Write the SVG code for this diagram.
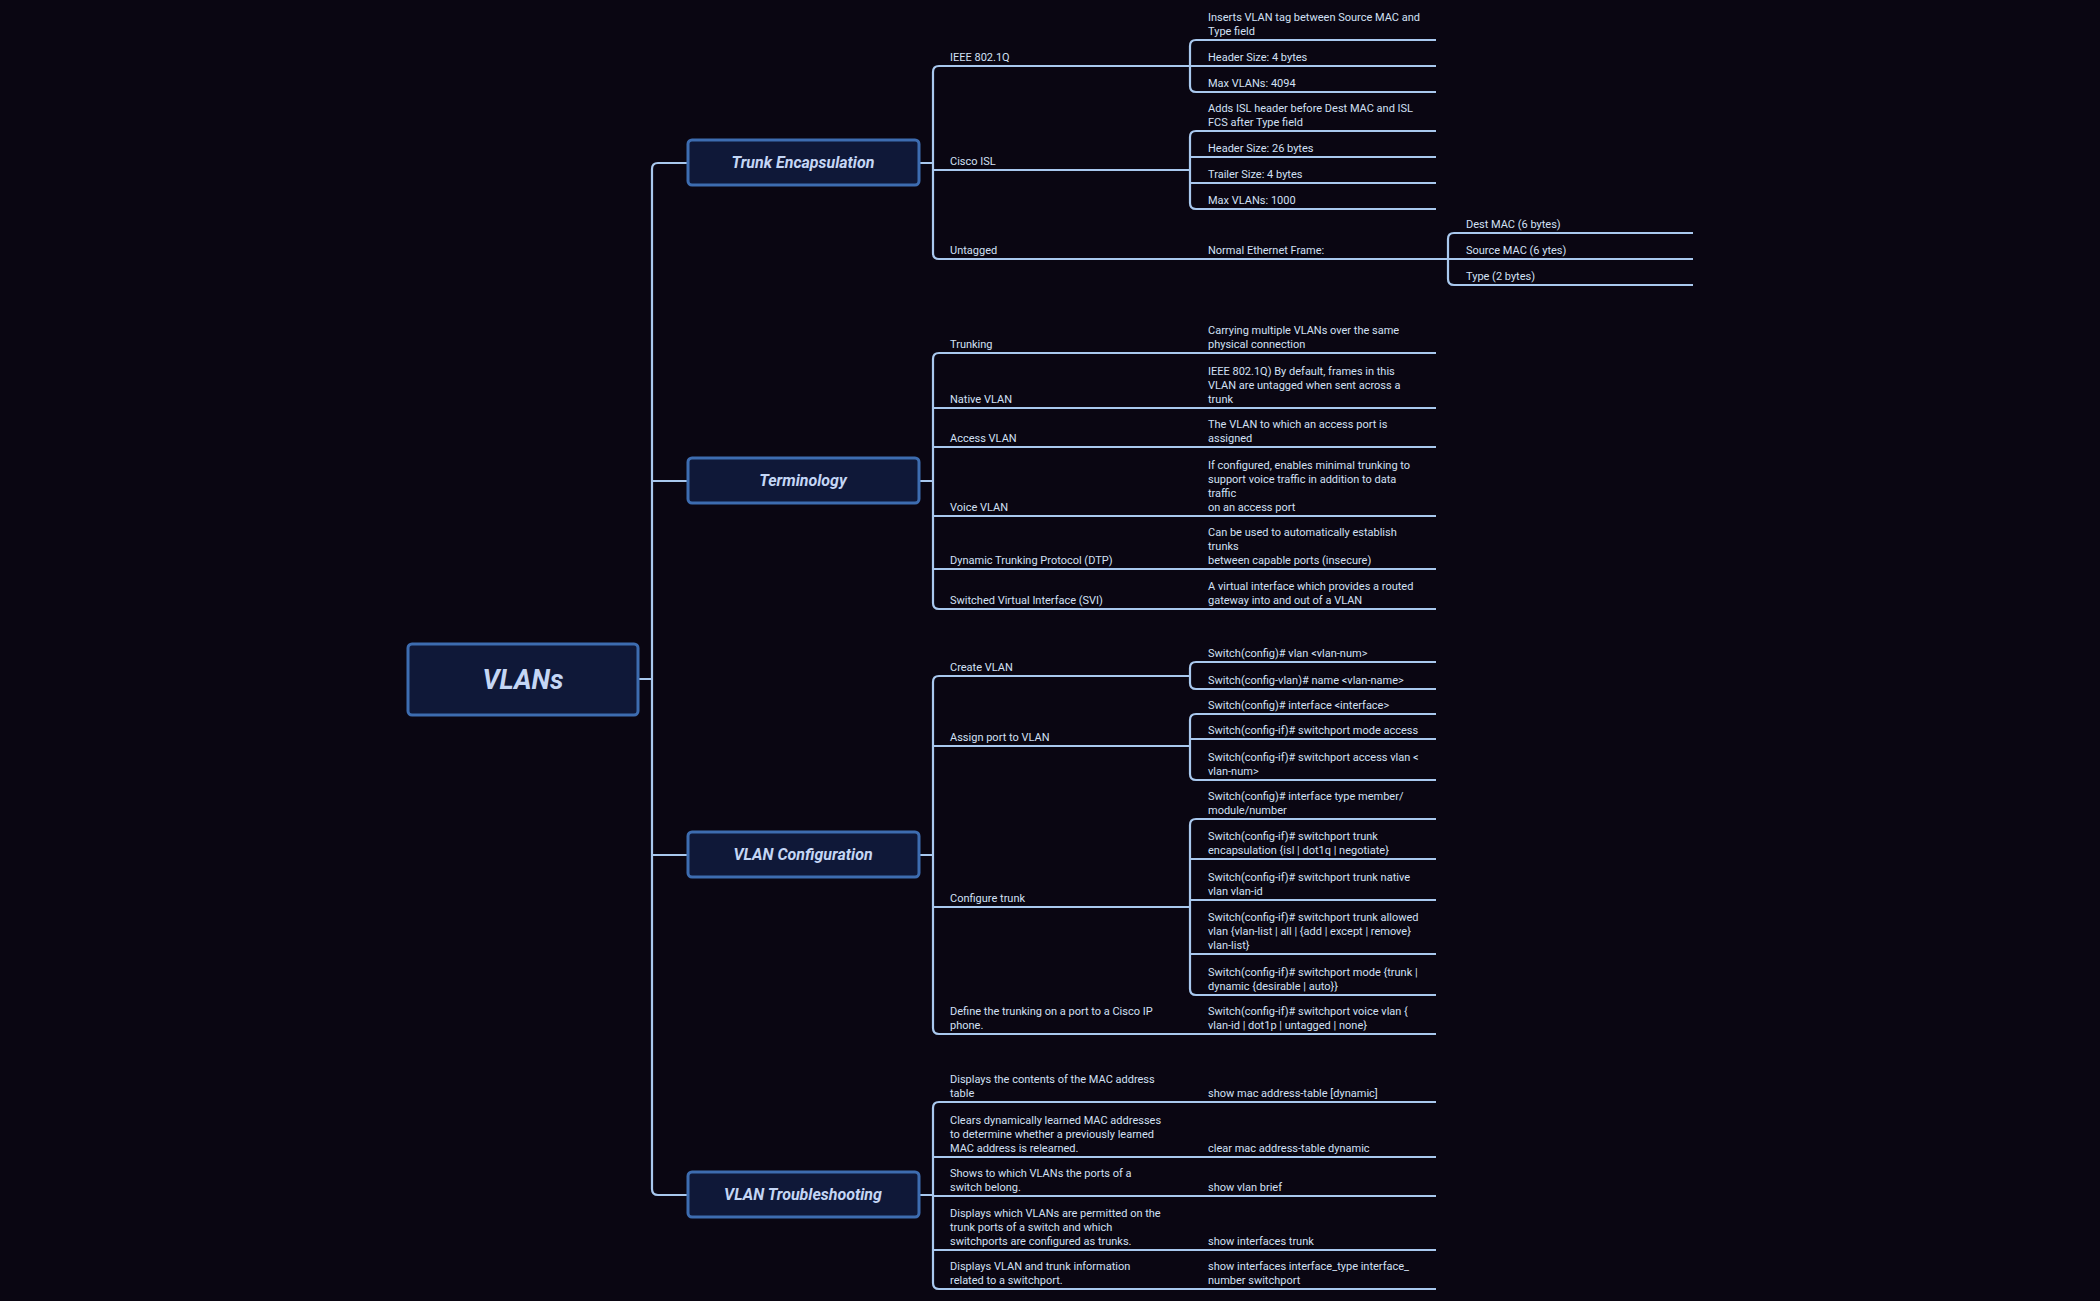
<svg xmlns="http://www.w3.org/2000/svg" width="2100" height="1301" viewBox="0 0 2100 1301">
<style>
.c{fill:none;stroke:#a9c8ee;stroke-width:2.2}
.t{font-family:Roboto,"Liberation Sans",sans-serif;font-size:11px;fill:#d2e0f5}
.box{fill:#0f1838;stroke:#3d6cb0;stroke-width:3}
.bt{font-family:Roboto,"Liberation Sans",sans-serif;font-weight:bold;font-style:italic;fill:#c4d6f5;text-anchor:middle}
</style>
<rect width="2100" height="1301" fill="#0a0612"/>
<g id="connectors">
<path class="c" d="M638,679 H652 M688,163 H658 Q652,163 652,169 V1189 Q652,1195 658,1195 H688 M652,481 H688 M652,855 H688"/>
<path class="c" d="M919,163 H933 M1190,66 H939 Q933,66 933,72 V253 Q933,259 939,259 H1448 M933,170 H1190"/>
<path class="c" d="M1436,40 H1196 Q1190,40 1190,46 V86 Q1190,92 1196,92 H1436 M1190,66 H1436"/>
<path class="c" d="M1436,131 H1196 Q1190,131 1190,137 V203 Q1190,209 1196,209 H1436 M1190,157 H1436 M1190,183 H1436"/>
<path class="c" d="M1693,233 H1454 Q1448,233 1448,239 V279 Q1448,285 1454,285 H1693 M1448,259 H1693"/>
<path class="c" d="M919,481 H933 M1436,353 H939 Q933,353 933,359 V603 Q933,609 939,609 H1436 M933,408 H1436 M933,447 H1436 M933,516 H1436 M933,569 H1436"/>
<path class="c" d="M919,855 H933 M1190,676 H939 Q933,676 933,682 V1028 Q933,1034 939,1034 H1436 M933,746 H1190 M933,907 H1190"/>
<path class="c" d="M1436,662 H1196 Q1190,662 1190,668 V683 Q1190,689 1196,689 H1436"/>
<path class="c" d="M1436,714 H1196 Q1190,714 1190,720 V774 Q1190,780 1196,780 H1436 M1190,739 H1436"/>
<path class="c" d="M1436,819 H1196 Q1190,819 1190,825 V989 Q1190,995 1196,995 H1436 M1190,859 H1436 M1190,900 H1436 M1190,954 H1436"/>
<path class="c" d="M919,1195 H933 M1436,1102 H939 Q933,1102 933,1108 V1283 Q933,1289 939,1289 H1436 M933,1157 H1436 M933,1196 H1436 M933,1250 H1436"/>
</g>
<g id="root"><rect class="box" x="408" y="644" width="230" height="71" rx="4"/><text class="bt" x="523" y="689" font-size="27">VLANs</text></g>
<g id="trunk-enc"><rect class="box" x="688" y="140" width="231" height="45" rx="4"/><text class="bt" x="803" y="168" font-size="16">Trunk Encapsulation</text></g>
<g id="terminology"><rect class="box" x="688" y="458" width="231" height="45" rx="4"/><text class="bt" x="803" y="486" font-size="16">Terminology</text></g>
<g id="vlan-config"><rect class="box" x="688" y="832" width="231" height="45" rx="4"/><text class="bt" x="803" y="860" font-size="16">VLAN Configuration</text></g>
<g id="vlan-trouble"><rect class="box" x="688" y="1172" width="231" height="45" rx="4"/><text class="bt" x="803" y="1200" font-size="16">VLAN Troubleshooting</text></g>
<g id="trunk-items" class="t">
<text x="950" y="61">IEEE 802.1Q</text>
<text x="950" y="165">Cisco ISL</text>
<text x="950" y="254">Untagged</text>
<text x="1208" y="21">Inserts VLAN tag between Source MAC and</text>
<text x="1208" y="35">Type field</text>
<text x="1208" y="61">Header Size: 4 bytes</text>
<text x="1208" y="87">Max VLANs: 4094</text>
<text x="1208" y="112">Adds ISL header before Dest MAC and ISL</text>
<text x="1208" y="126">FCS after Type field</text>
<text x="1208" y="152">Header Size: 26 bytes</text>
<text x="1208" y="178">Trailer Size: 4 bytes</text>
<text x="1208" y="204">Max VLANs: 1000</text>
<text x="1208" y="254">Normal Ethernet Frame:</text>
<text x="1466" y="228">Dest MAC (6 bytes)</text>
<text x="1466" y="254">Source MAC (6 ytes)</text>
<text x="1466" y="280">Type (2 bytes)</text>
</g>
<g id="term-items" class="t">
<text x="950" y="348">Trunking</text>
<text x="1208" y="334">Carrying multiple VLANs over the same</text>
<text x="1208" y="348">physical connection</text>
<text x="950" y="403">Native VLAN</text>
<text x="1208" y="375">IEEE 802.1Q) By default, frames in this</text>
<text x="1208" y="389">VLAN are untagged when sent across a</text>
<text x="1208" y="403">trunk</text>
<text x="950" y="442">Access VLAN</text>
<text x="1208" y="428">The VLAN to which an access port is</text>
<text x="1208" y="442">assigned</text>
<text x="950" y="511">Voice VLAN</text>
<text x="1208" y="469">If configured, enables minimal trunking to</text>
<text x="1208" y="483">support voice traffic in addition to data</text>
<text x="1208" y="497">traffic</text>
<text x="1208" y="511">on an access port</text>
<text x="950" y="564">Dynamic Trunking Protocol (DTP)</text>
<text x="1208" y="536">Can be used to automatically establish</text>
<text x="1208" y="550">trunks</text>
<text x="1208" y="564">between capable ports (insecure)</text>
<text x="950" y="604">Switched Virtual Interface (SVI)</text>
<text x="1208" y="590">A virtual interface which provides a routed</text>
<text x="1208" y="604">gateway into and out of a VLAN</text>
</g>
<g id="config-items" class="t">
<text x="950" y="671">Create VLAN</text>
<text x="1208" y="657">Switch(config)# vlan &lt;vlan-num&gt;</text>
<text x="1208" y="684">Switch(config-vlan)# name &lt;vlan-name&gt;</text>
<text x="950" y="741">Assign port to VLAN</text>
<text x="1208" y="709">Switch(config)# interface &lt;interface&gt;</text>
<text x="1208" y="734">Switch(config-if)# switchport mode access</text>
<text x="1208" y="761">Switch(config-if)# switchport access vlan &lt;</text>
<text x="1208" y="775">vlan-num&gt;</text>
<text x="950" y="902">Configure trunk</text>
<text x="1208" y="800">Switch(config)# interface type member/</text>
<text x="1208" y="814">module/number</text>
<text x="1208" y="840">Switch(config-if)# switchport trunk</text>
<text x="1208" y="854">encapsulation {isl | dot1q | negotiate}</text>
<text x="1208" y="881">Switch(config-if)# switchport trunk native</text>
<text x="1208" y="895">vlan vlan-id</text>
<text x="1208" y="921">Switch(config-if)# switchport trunk allowed</text>
<text x="1208" y="935">vlan {vlan-list | all | {add | except | remove}</text>
<text x="1208" y="949">vlan-list}</text>
<text x="1208" y="976">Switch(config-if)# switchport mode {trunk |</text>
<text x="1208" y="990">dynamic {desirable | auto}}</text>
<text x="950" y="1015">Define the trunking on a port to a Cisco IP</text>
<text x="950" y="1029">phone.</text>
<text x="1208" y="1015">Switch(config-if)# switchport voice vlan {</text>
<text x="1208" y="1029">vlan-id | dot1p | untagged | none}</text>
</g>
<g id="trouble-items" class="t">
<text x="950" y="1083">Displays the contents of the MAC address</text>
<text x="950" y="1097">table</text>
<text x="1208" y="1097">show mac address-table [dynamic]</text>
<text x="950" y="1124">Clears dynamically learned MAC addresses</text>
<text x="950" y="1138">to determine whether a previously learned</text>
<text x="950" y="1152">MAC address is relearned.</text>
<text x="1208" y="1152">clear mac address-table dynamic</text>
<text x="950" y="1177">Shows to which VLANs the ports of a</text>
<text x="950" y="1191">switch belong.</text>
<text x="1208" y="1191">show vlan brief</text>
<text x="950" y="1217">Displays which VLANs are permitted on the</text>
<text x="950" y="1231">trunk ports of a switch and which</text>
<text x="950" y="1245">switchports are configured as trunks.</text>
<text x="1208" y="1245">show interfaces trunk</text>
<text x="950" y="1270">Displays VLAN and trunk information</text>
<text x="950" y="1284">related to a switchport.</text>
<text x="1208" y="1270">show interfaces interface_type interface_</text>
<text x="1208" y="1284">number switchport</text>
</g>
</svg>
